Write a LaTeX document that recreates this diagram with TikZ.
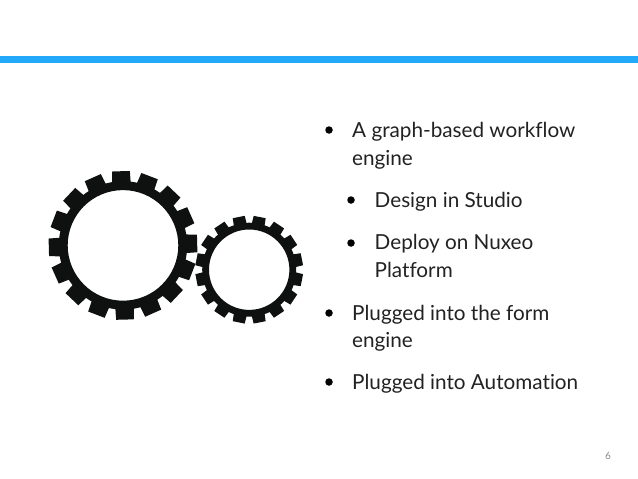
\documentclass[tikz,border=0pt]{standalone}
\usepackage{fontspec}
\setmainfont{Lato}[Ligatures={NoCommon}]
\definecolor{barblue}{HTML}{23A9F9}
\definecolor{gearblack}{HTML}{0E1110}
\definecolor{inktext}{HTML}{222222}
\definecolor{pagegrey}{HTML}{8A8A8A}
\tikzset{
  bodytext/.style={anchor=base west,inner sep=0pt,font=\fontsize{20.7}{24}\selectfont,text=inktext},
  dotmark/.style={circle,fill=black,inner sep=0pt,minimum size=7.5pt},
  gearfill/.style={fill=gearblack,even odd rule}
}
\begin{document}
\begin{tikzpicture}[x=1pt,y=-1pt]
\useasboundingbox (0,0) rectangle (638,479);
\fill[white] (0,0) rectangle (638,479);
\fill[barblue] (0,56) rectangle (638,63);
% large gear
\fill[gearfill] (123,245.4) circle (64.2) (123,245.4) circle (55.3);
\foreach \k in {0,...,15}{
  \pgfmathsetmacro{\ang}{1.5+22.5*\k}
  \fill[gearblack,shift={(123,245.4)},rotate=\ang] (63,-9.3) -- (74.2,-8.8) -- (74.2,8.8) -- (63,9.3) -- cycle;
}
% small gear
\fill[gearfill] (249.2,269.7) circle (47) (249.2,269.7) circle (40.2);
\foreach \k in {0,...,15}{
  \pgfmathsetmacro{\ang}{11.25+22.5*\k}
  \fill[gearblack,shift={(249.2,269.7)},rotate=\ang] (46,-6.5) -- (53.7,-6.1) -- (53.7,6.1) -- (46,6.5) -- cycle;
}
\node[dotmark] (d1) at (329,130) {};
\node[dotmark] (d2) at (351,200) {};
\node[dotmark] (d3) at (351,243) {};
\node[dotmark] (d4) at (329,313) {};
\node[dotmark] (d5) at (329,382) {};
\node[bodytext] (t1) at (352,137.5) {A graph-based workflow};
\node[bodytext] (t2) at (352,165) {engine};
\node[bodytext] (t3) at (374.5,207.5) {Design in Studio};
\node[bodytext] (t4) at (374.5,249.5) {Deploy on Nuxeo};
\node[bodytext] (t5) at (374.5,277) {Platform};
\node[bodytext] (t6) at (352,320) {Plugged into the form};
\node[bodytext] (t7) at (352,347) {engine};
\node[bodytext] (t8) at (352,389) {Plugged into Automation};
\node[anchor=base east,inner sep=0pt,font=\fontsize{10}{12}\selectfont,text=pagegrey] (pg) at (611,459.5) {6};
\end{tikzpicture}
\end{document}
